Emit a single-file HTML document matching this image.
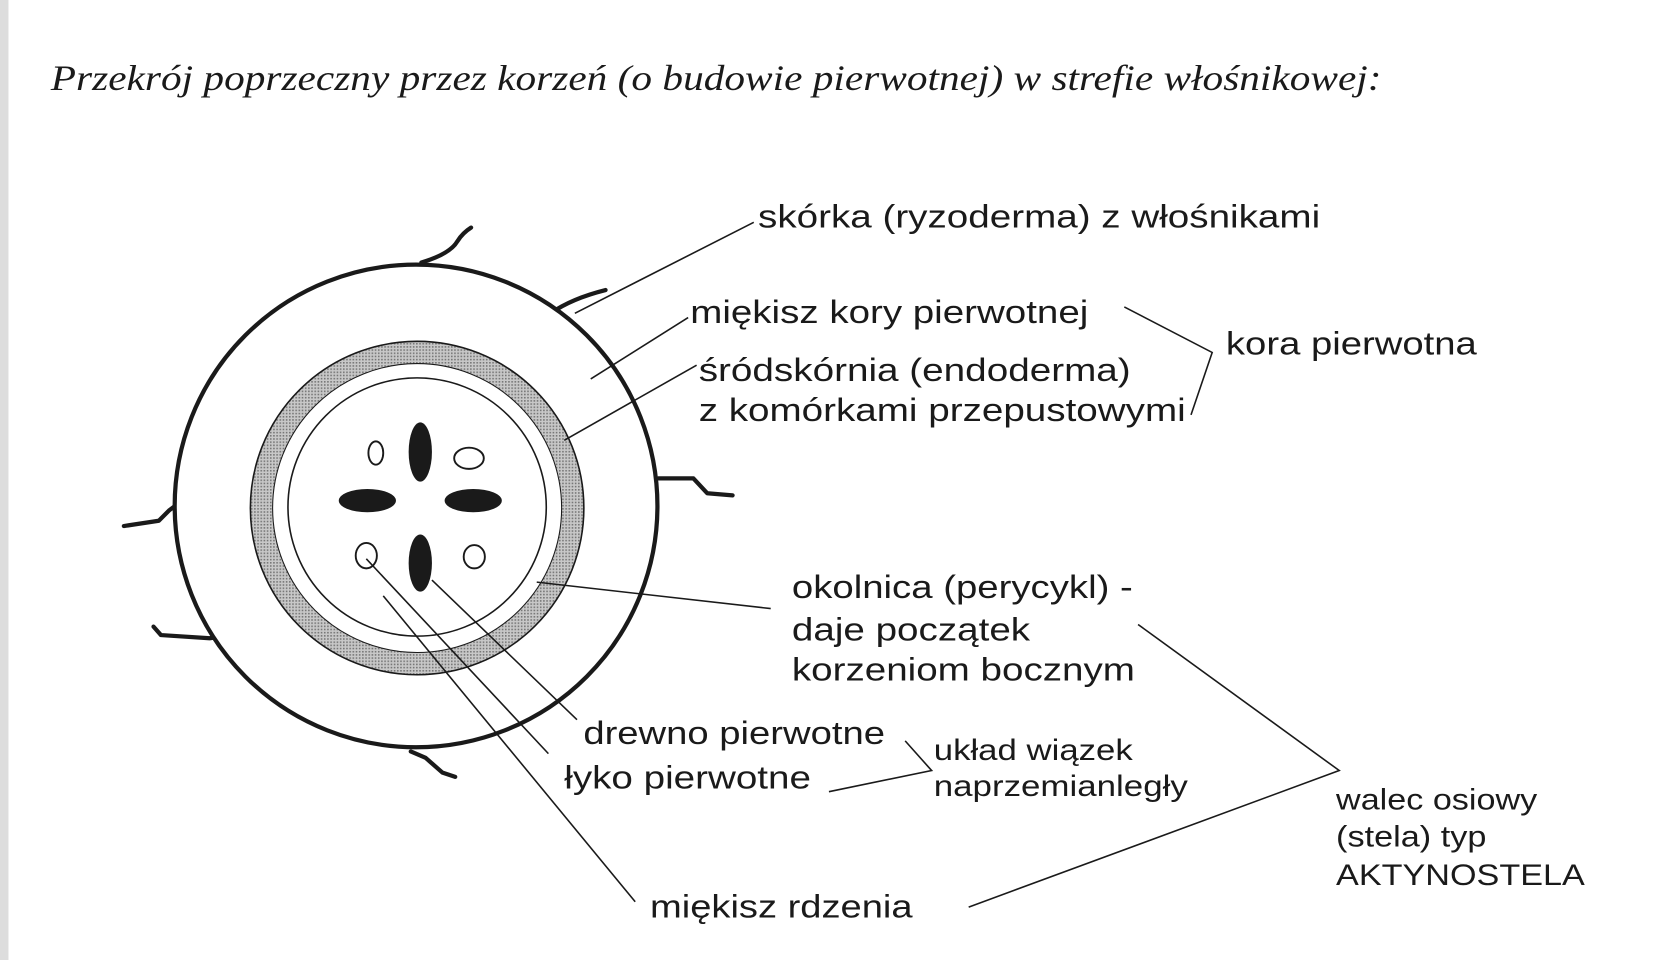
<!DOCTYPE html>
<html><head><meta charset="utf-8"><style>
html,body{margin:0;padding:0;background:#fff;width:1660px;height:960px;overflow:hidden}
svg{display:block}
text{font-family:"Liberation Sans",sans-serif;fill:#1a1a1a}
</style></head><body>
<svg width="1660" height="960" viewBox="0 0 1568 907" preserveAspectRatio="none" xmlns="http://www.w3.org/2000/svg">
<defs>
<pattern id="dots" width="3" height="3" patternUnits="userSpaceOnUse">
<rect width="3" height="3" fill="#c8c8c8"/><rect width="1.5" height="1.5" fill="#777"/>
</pattern>
</defs>
<rect x="0" y="0" width="8" height="907" fill="#ddd"/>
<text x="48" y="85" font-style="italic" font-size="34" textLength="1257" lengthAdjust="spacingAndGlyphs" style="font-family:'Liberation Serif',serif">Przekrój poprzeczny przez korzeń (o budowie pierwotnej) w strefie włośnikowej:</text>

<g fill="none" stroke="#1a1a1a" stroke-linecap="round" stroke-linejoin="round">
<path d="M398 248 Q425 240 432 228 Q437 220 445 215" stroke-width="4"/>
<path d="M520 296 Q540 282 572 274" stroke-width="4"/>
<path d="M622 452 L655 452 L668 466 L692 468" stroke-width="4"/>
<path d="M117 497 L150 492 L160 482 L168 476" stroke-width="4"/>
<path d="M145 592 L152 600 L198 603 L205 602" stroke-width="4"/>
<path d="M388 710 L402 716 L418 730 L430 734" stroke-width="4"/>
<circle cx="393" cy="478" r="228" fill="#fff" stroke-width="4"/>
<circle cx="394" cy="480" r="147" stroke="url(#dots)" stroke-width="21"/>
<circle cx="394" cy="480" r="157.5" stroke-width="1.5"/>
<circle cx="394" cy="480" r="136.5" stroke-width="1"/>
<circle cx="394" cy="479" r="122" stroke-width="1.5"/>
</g>
<g fill="#1a1a1a">
<ellipse cx="397" cy="427" rx="11" ry="28"/>
<ellipse cx="397" cy="532" rx="11" ry="27"/>
<ellipse cx="347" cy="473" rx="27" ry="11"/>
<ellipse cx="447" cy="473" rx="27" ry="11"/>
</g>
<g fill="#fff" stroke="#1a1a1a" stroke-width="1.8">
<ellipse cx="355" cy="428" rx="7" ry="11"/>
<ellipse cx="443" cy="433" rx="14" ry="10"/>
<ellipse cx="346" cy="525" rx="10" ry="12"/>
<ellipse cx="448" cy="526" rx="10" ry="11"/>
</g>
<g stroke="#1a1a1a" stroke-width="1.5" fill="none">
<line x1="543" y1="296" x2="712" y2="210"/>
<line x1="558" y1="358" x2="650" y2="300"/>
<line x1="533" y1="416" x2="658" y2="345"/>
<line x1="507" y1="550" x2="728" y2="575"/>
<line x1="408" y1="548" x2="545" y2="680"/>
<line x1="346" y1="528" x2="518" y2="712"/>
<line x1="362" y1="563" x2="600" y2="852"/>
<polyline points="1062,290 1145,333 1125,392"/>
<polyline points="855,700 880,728 783,748"/>
<polyline points="1075,590 1265,728 915,857"/>
</g>
<g font-size="31">
<text x="716" y="215" textLength="531" lengthAdjust="spacingAndGlyphs">skórka (ryzoderma) z włośnikami</text>
<text x="652" y="305" textLength="376" lengthAdjust="spacingAndGlyphs">miękisz kory pierwotnej</text>
<text x="660" y="360" textLength="408" lengthAdjust="spacingAndGlyphs">śródskórnia (endoderma)</text>
<text x="660" y="398" textLength="460" lengthAdjust="spacingAndGlyphs">z komórkami przepustowymi</text>
<text x="1158" y="335" textLength="237" lengthAdjust="spacingAndGlyphs">kora pierwotna</text>
<text x="748" y="565" textLength="322" lengthAdjust="spacingAndGlyphs">okolnica (perycykl) -</text>
<text x="748" y="605" textLength="225" lengthAdjust="spacingAndGlyphs">daje początek</text>
<text x="748" y="643" textLength="324" lengthAdjust="spacingAndGlyphs">korzeniom bocznym</text>
<text x="551" y="703" textLength="285" lengthAdjust="spacingAndGlyphs">drewno pierwotne</text>
<text x="533" y="745" textLength="233" lengthAdjust="spacingAndGlyphs">łyko pierwotne</text>
<text x="614" y="867" textLength="248" lengthAdjust="spacingAndGlyphs">miękisz rdzenia</text>
</g>
<g font-size="28">
<text x="882" y="718" textLength="188" lengthAdjust="spacingAndGlyphs">układ wiązek</text>
<text x="882" y="752" textLength="240" lengthAdjust="spacingAndGlyphs">naprzemianległy</text>
<text x="1262" y="765" textLength="190" lengthAdjust="spacingAndGlyphs">walec osiowy</text>
<text x="1262" y="800" textLength="142" lengthAdjust="spacingAndGlyphs">(stela) typ</text>
<text x="1262" y="836" textLength="235" lengthAdjust="spacingAndGlyphs">AKTYNOSTELA</text>
</g>
</svg>
</body></html>
